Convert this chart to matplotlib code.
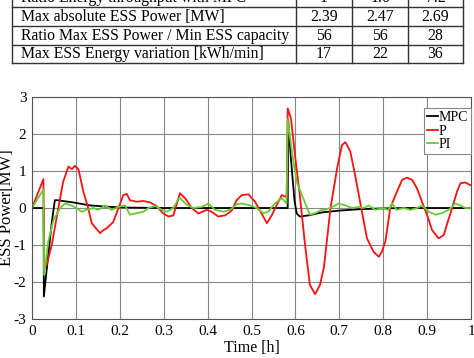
import matplotlib
matplotlib.use("Agg")
import matplotlib.pyplot as plt

plt.rcParams["font.family"] = ["Liberation Serif", "DejaVu Serif"]

# table (top part of the picture, first row is cut by the image edge)
row_labels = ["Ratio Energy throughput with MPC",
              "Max absolute ESS Power [MW]",
              "Ratio Max ESS Power / Min ESS capacity",
              "Max ESS Energy variation [kWh/min]"]
row_values = [["1", "1.6", "7.2"],
              ["2.39", "2.47", "2.69"],
              ["56", "56", "28"],
              ["17", "22", "36"]]

# ESS power curves [MW] vs time [h]
t_mpc = [0.0, 0.0265, 0.027, 0.035, 0.045, 0.052, 0.058, 0.07, 0.094, 0.132,
         0.178, 0.223, 0.30, 0.5825, 0.5835, 0.59, 0.598, 0.603, 0.61, 0.63,
         0.66, 0.70, 0.75, 0.80, 0.85, 1.0]
p_mpc = [0.0, 0.0, -2.39, -1.5, -0.4, 0.21, 0.21, 0.19, 0.15, 0.07,
         0.03, 0.01, 0.0, 0.0, 2.39, 1.3, 0.2, -0.15, -0.23, -0.2,
         -0.12, -0.07, -0.03, -0.01, 0.0, 0.0]

t_p = [0.0, 0.026, 0.0275, 0.033, 0.045, 0.060, 0.071, 0.083, 0.091, 0.098,
       0.106, 0.117, 0.128, 0.136, 0.155, 0.162, 0.170, 0.185, 0.197, 0.208,
       0.216, 0.223, 0.238, 0.254, 0.269, 0.284, 0.299, 0.311, 0.322, 0.333,
       0.337, 0.349, 0.364, 0.379, 0.398, 0.409, 0.424, 0.440, 0.455, 0.466,
       0.478, 0.493, 0.508, 0.523, 0.535, 0.546, 0.557, 0.569, 0.580, 0.5825,
       0.590, 0.599, 0.610, 0.622, 0.633, 0.645, 0.656, 0.665, 0.680, 0.695,
       0.706, 0.714, 0.725, 0.736, 0.750, 0.763, 0.778, 0.790, 0.797, 0.805,
       0.816, 0.828, 0.843, 0.854, 0.866, 0.877, 0.888, 0.900, 0.911, 0.926,
       0.938, 0.945, 0.957, 0.968, 0.976, 0.987, 0.998]
p_p = [0.0, 0.78, -1.65, -1.55, -1.0, 0.0, 0.71, 1.12, 1.05, 1.14,
       1.04, 0.44, 0.0, -0.41, -0.68, -0.6, -0.55, -0.38, 0.0, 0.35,
       0.38, 0.21, 0.17, 0.19, 0.15, 0.05, -0.15, -0.23, -0.2, 0.24,
       0.40, 0.26, 0.0, -0.15, -0.05, -0.1, -0.23, -0.2, -0.07, 0.21,
       0.35, 0.37, 0.17, -0.15, -0.41, -0.2, 0.07, 0.35, 0.29, 2.69,
       2.42, 1.43, 0.35, -1.0, -2.08, -2.33, -2.08, -1.6, 0.0, 1.07,
       1.70, 1.78, 1.53, 0.89, 0.0, -0.82, -1.18, -1.32, -1.18, -0.9,
       0.0, 0.35, 0.76, 0.82, 0.76, 0.53, 0.18, -0.19, -0.59, -0.82,
       -0.73, -0.45, 0.0, 0.44, 0.67, 0.69, 0.62]

t_pi = [0.0, 0.026, 0.0275, 0.037, 0.049, 0.064, 0.075, 0.090, 0.101, 0.113,
        0.124, 0.140, 0.151, 0.166, 0.181, 0.197, 0.212, 0.223, 0.238, 0.254,
        0.265, 0.281, 0.296, 0.307, 0.322, 0.333, 0.337, 0.352, 0.368, 0.387,
        0.402, 0.417, 0.436, 0.451, 0.466, 0.478, 0.497, 0.512, 0.527, 0.538,
        0.553, 0.569, 0.580, 0.5825, 0.592, 0.603, 0.613, 0.620, 0.633, 0.645,
        0.660, 0.668, 0.684, 0.699, 0.714, 0.729, 0.744, 0.756, 0.767, 0.782,
        0.797, 0.812, 0.820, 0.831, 0.846, 0.862, 0.877, 0.888, 0.904, 0.919,
        0.934, 0.949, 0.964, 0.976, 0.987, 1.0]
p_pi = [0.0, 0.50, -1.81, -0.91, -0.32, 0.0, 0.12, 0.07, 0.0, -0.1,
        -0.05, 0.0, -0.05, 0.07, -0.05, 0.03, 0.07, -0.18, -0.14, -0.1,
        0.0, 0.05, -0.05, -0.1, 0.0, 0.24, 0.27, 0.09, 0.0, 0.03,
        0.12, -0.05, -0.1, -0.05, 0.1, 0.12, 0.07, 0.0, -0.14, -0.1,
        0.12, 0.27, 0.12, 2.40, 1.52, 0.71, 0.40, 0.2, -0.18, -0.14,
        -0.05, -0.05, 0.03, 0.12, 0.07, 0.0, 0.03, 0.0, 0.07, -0.05,
        0.0, -0.05, 0.12, -0.05, 0.0, -0.05, 0.0, 0.07, -0.1, -0.18,
        -0.14, -0.05, 0.12, 0.07, 0.0, 0.0]

x_ticks = [0, 0.1, 0.2, 0.3, 0.4, 0.5, 0.6, 0.7, 0.8, 0.9, 1]
x_tick_labels = ["0", "0.1", "0.2", "0.3", "0.4", "0.5", "0.6", "0.7", "0.8", "0.9", "1"]
y_ticks = [-3, -2, -1, 0, 1, 2, 3]
y_tick_labels = ["-3", "-2", "-1", "0", "1", "2", "3"]

W, H = 474, 358
fig = plt.figure(figsize=(W / 100, H / 100), dpi=100)

# table drawn in pixel coordinates
tab = fig.add_axes([0, 0, 1, 1])
tab.set_xlim(0, W)
tab.set_ylim(H, 0)
tab.axis("off")
col_x = [12, 296, 352, 408, 463]
row_y = [-11.4, 7.3, 26.0, 44.7, 63.3]
for y in row_y:
    tab.plot([col_x[0], col_x[-1]], [y, y], color="#333333", lw=1.0)
for x in col_x:
    tab.plot([x, x], [row_y[0], row_y[-1]], color="#333333", lw=1.0)
for i, label in enumerate(row_labels):
    yc = (row_y[i] + row_y[i + 1]) / 2 + 0.5
    tab.text(21, yc, label, fontsize=11.3, va="center", ha="left")
    for j, v in enumerate(row_values[i]):
        xc = (col_x[j + 1] + col_x[j + 2]) / 2
        tab.text(xc, yc, v, fontsize=11.3, va="center", ha="center")

ax = fig.add_axes([32 / W, 1 - 319 / H, (471 - 32) / W, (319 - 97) / H])
ax.plot(t_mpc, p_mpc, color="black", lw=1.3, label="MPC")
ax.plot(t_p, p_p, color="#ff1010", lw=1.3, label="P")
ax.plot(t_pi, p_pi, color="#66cc33", lw=1.3, label="PI")

ax.set_xlim(0, 1)
ax.set_ylim(-3, 3)
ax.set_xticks(x_ticks)
ax.set_xticklabels(x_tick_labels)
ax.set_yticks(y_ticks)
ax.set_yticklabels(y_tick_labels)
ax.grid(True, color="#888888", lw=0.8)
ax.tick_params(length=0, labelsize=11, pad=4)
for s in ax.spines.values():
    s.set_color("#555555")
    s.set_linewidth(0.8)
ax.set_xlabel("Time [h]", fontsize=11.5, labelpad=2)
ax.set_ylabel("ESS Power[MW]", fontsize=12)
ax.yaxis.set_label_coords(-17 / 439, 0.5)

leg = ax.legend(loc="upper right", bbox_to_anchor=(1.0, 0.95), borderaxespad=0,
                fontsize=10, handlelength=0.8, handletextpad=0.05,
                borderpad=0.2, labelspacing=0.05, fancybox=False,
                framealpha=1, edgecolor="#888888")
leg.get_frame().set_linewidth(0.8)

fig.savefig("out.png", dpi=100)
